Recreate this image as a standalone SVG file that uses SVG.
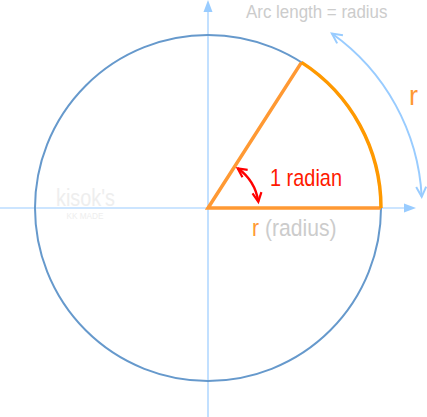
<svg xmlns="http://www.w3.org/2000/svg" width="427" height="417" viewBox="0 0 427 417">
<defs>
<style>
.axis{stroke:#99CCFF;stroke-width:1.2;fill:none}
.axhead{fill:#99CCFF}
.t{font-family:"Liberation Sans",Arial,sans-serif}
.gray{fill:#CCCCCC}
.org{fill:#FF9933}
</style>
<marker id="vb" markerUnits="userSpaceOnUse" markerWidth="14" markerHeight="14" refX="10" refY="5" orient="auto-start-reverse" overflow="visible">
<path d="M0,0 L10,5 L0,10" fill="none" stroke="#99CCFF" stroke-width="2"/>
</marker>
<marker id="vr" markerUnits="userSpaceOnUse" markerWidth="14" markerHeight="14" refX="9" refY="4.5" orient="auto-start-reverse" overflow="visible">
<path d="M0,0 L9,4.5 L0,9" fill="none" stroke="#FF0000" stroke-width="2.2"/>
</marker>
</defs>
<rect width="427" height="417" fill="#FFFFFF"/>
<g id="watermark">
<text class="t" x="56" y="206" font-size="23" fill="#EEEEEE" textLength="59" lengthAdjust="spacingAndGlyphs">kisok's</text>
<text class="t" x="66.5" y="218.5" font-size="9" fill="#EEEEEE" textLength="37" lengthAdjust="spacingAndGlyphs">KK MADE</text>
</g>
<g id="axes">
<line class="axis" x1="0" y1="208" x2="406" y2="208"/>
<polygon class="axhead" points="404,203.5 416,208 404,212.5"/>
<line class="axis" x1="208" y1="417" x2="208" y2="11"/>
<polygon class="axhead" points="203.5,12 208,0 212.5,12"/>
</g>
<g id="circle">
<circle cx="208" cy="208" r="173" fill="none" stroke="#6699CC" stroke-width="2"/>
</g>
<g id="sector">
<path d="M301.5,62.4 L208,208 L381,208" fill="none" stroke="#FF9933" stroke-width="3.5" stroke-linejoin="miter"/>
<path d="M301.5,62.4 A173,173 0 0 1 381,208" fill="none" stroke="#FF9900" stroke-width="3.5"/>
</g>
<g id="connectors">
<path d="M331.9,33.5 A214,214 0 0 1 421.7,196.8" fill="none" stroke="#99CCFF" stroke-width="2" marker-start="url(#vb)" marker-end="url(#vb)"/>
<path d="M237.7,168.3 A50,50 0 0 1 258.3,201.7" fill="none" stroke="#FF0000" stroke-width="2.4" marker-start="url(#vr)" marker-end="url(#vr)"/>
</g>
<g id="labels">
<text class="t gray" x="246" y="17.5" font-size="18.5" textLength="141.5" lengthAdjust="spacingAndGlyphs">Arc length = radius</text>
<text class="t org" x="409" y="105" font-size="27">r</text>
<text class="t" x="270" y="186" font-size="24" fill="#FF1a00" textLength="72" lengthAdjust="spacingAndGlyphs">1 radian</text>
<text class="t" x="252" y="236.3" font-size="24.5" textLength="84.5" lengthAdjust="spacingAndGlyphs"><tspan class="org">r</tspan><tspan class="gray"> (radius)</tspan></text>
</g>
</svg>
